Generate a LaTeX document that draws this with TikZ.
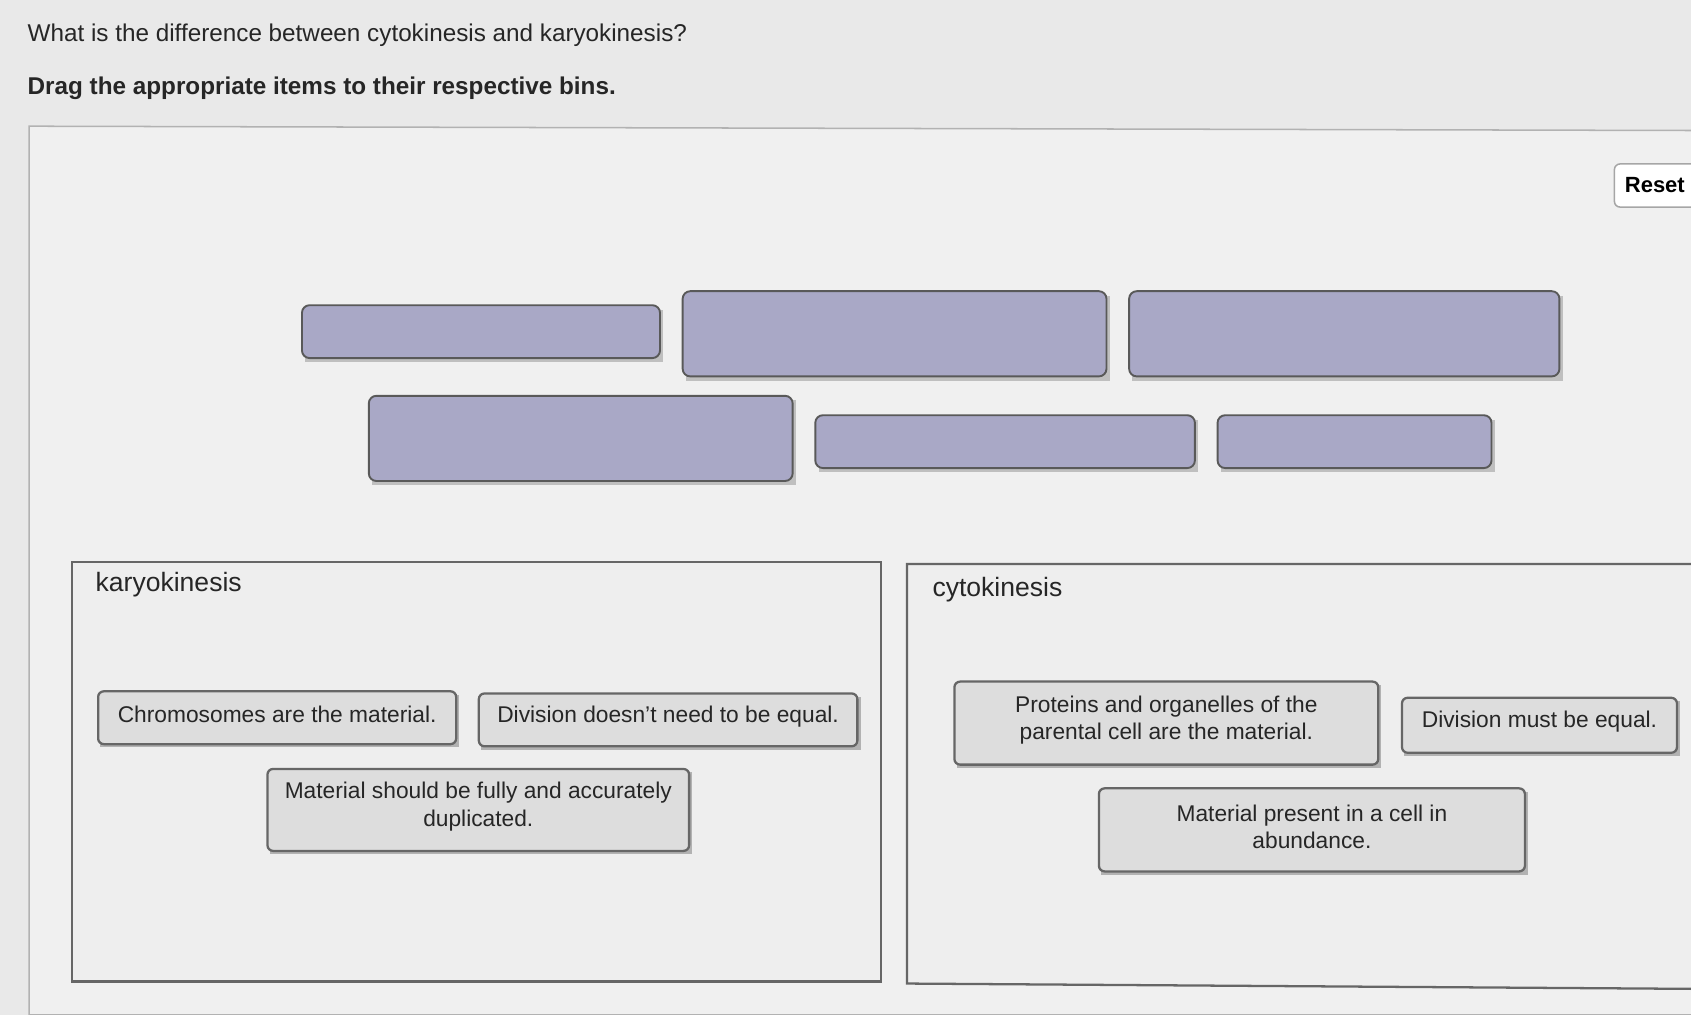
\documentclass[tikz,border=0pt]{standalone}
\usepackage{fontspec}
\setmainfont{Liberation Sans}
\definecolor{slotc}{RGB}{169,168,198}
\definecolor{itemc}{RGB}{221,221,221}
\definecolor{binc}{RGB}{238,238,238}
\definecolor{bgc}{RGB}{233,233,233}
\definecolor{panc}{RGB}{240,240,240}
\begin{document}
\begin{tikzpicture}[x=0.01cm,y=-0.01cm,
  slot/.style={draw=gray!70!black,fill=slotc,rounded corners=2pt,line width=0.5pt},
  item/.style={draw=gray!80!black,fill=itemc,rounded corners=1.5pt,line width=0.6pt},
  bin/.style={draw=gray!80!black,fill=binc,line width=0.6pt},
  txt/.style={font=\fontsize{6}{7.2}\selectfont,align=center,text=black!85}]
\useasboundingbox (0,0) rectangle (1568,941);
\fill[bgc] (0,0) rectangle (1568,941);
\node[anchor=west,inner sep=0pt,font=\fontsize{6.4}{7.6}\selectfont,text=black!85] (q) at (25,33) {What is the difference between cytokinesis and karyokinesis?};
\node[anchor=west,inner sep=0pt,font=\bfseries\fontsize{6.4}{7.6}\selectfont,text=black!85] (d) at (25,82) {Drag the appropriate items to their respective bins.};
\draw[gray!60,fill=panc] (1568,121) -- (27,117) -- (27,941) -- (1568,941);
\draw[gray!70,fill=white,rounded corners=1.5pt] (1497,152) rectangle (1580,192);
\node[anchor=west,inner sep=0pt,font=\bfseries\fontsize{5.8}{7}\selectfont] (reset) at (1506,172) {Reset};
\foreach \a/\b/\c/\d in {280/283/612/332,633/270/1026/349,1047/270/1446/349,342/367/735/446,756/385/1108/434,1129/385/1383/434}{
  \fill[gray!50] (\a+3,\b+4) rectangle (\c+3,\d+4);
  \draw[slot] (\a,\b) rectangle (\c,\d);}
\draw[bin] (67,521) rectangle (817,910);
\node[anchor=west,inner sep=0pt,font=\fontsize{7}{8}\selectfont,text=black!85] (kl) at (88,542) {karyokinesis};
\draw[bin] (1580,523) -- (841,523) -- (841,912) -- (1580,917);
\node[anchor=west,inner sep=0pt,font=\fontsize{7}{8}\selectfont,text=black!85] (cl) at (864,547) {cytokinesis};
\foreach \a/\b/\c/\d/\t in {91/641/423/690/{Chromosomes are the material.},444/643/795/692/{Division doesn't need to be equal.},248/713/639/789/{Material should be fully and accurately\\duplicated.},885/632/1278/709/{Proteins and organelles of the\\parental cell are the material.},1300/647/1555/698/{Division must be equal.},1019/731/1414/808/{Material present in a cell in\\abundance.}}{
  \fill[gray!60] (\a+2,\b+3) rectangle (\c+3,\d+3);
  \draw[item] (\a,\b) rectangle (\c,\d);
  \node[txt] at ({(\a+\c)/2},{(\b+\d)/2-3}) {\t};}
\end{tikzpicture}
\end{document}
